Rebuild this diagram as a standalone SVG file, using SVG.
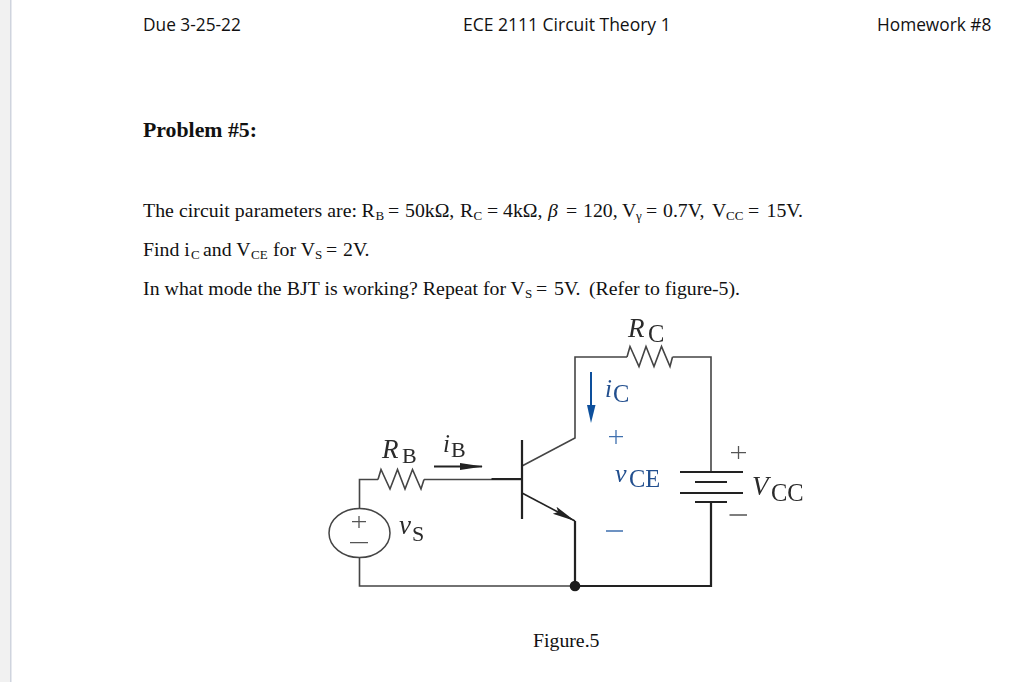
<svg xmlns="http://www.w3.org/2000/svg" width="1024" height="682" viewBox="0 0 1024 682">
<style>
.h{font-family:"Open Sans","Liberation Sans",sans-serif;font-size:17.3px;fill:#111}
.b{font-family:"Liberation Serif",serif;font-size:19.8px;fill:#111}
.s{font-size:13px}
.l{font-family:"Liberation Serif",serif;font-size:27px;fill:#2a2a2a}
.u{font-size:22px;font-style:normal}
.uu{font-size:24.500px;font-style:normal}
.i{font-style:italic}
.w{fill:none;stroke:#444;stroke-width:1.6}
.d{fill:none;stroke:#222;stroke-width:2.2}
.sg{fill:none;stroke:#555;stroke-width:1.3}
.bl{fill:none;stroke:#3f6fae;stroke-width:1.3}
.soft{filter:url(#soft)}
</style>
<defs>
<filter id="soft" x="-5%" y="-5%" width="110%" height="110%"><feGaussianBlur stdDeviation="0.35"/></filter>
<marker id="k" markerUnits="userSpaceOnUse" markerWidth="24" markerHeight="10" refX="23" refY="5" orient="auto"><path d="M0 1 L23 5 L0 9 L4 5Z" fill="#222"/></marker>
</defs>
<rect width="1024" height="682" fill="#fff"/>
<rect width="10" height="682" fill="#f1f1f1"/>
<rect x="10" width="1.5" height="682" fill="#cfd4de"/>
<g id="header">
<text class="h" x="143" y="31">Due 3-25-22</text>
<text class="h" x="463" y="31" style="font-size:17.5px">ECE 2111 Circuit Theory 1</text>
<text class="h" x="877" y="31">Homework #8</text>
</g>
<g id="problem">
<text class="b" x="143" y="137" font-weight="bold" style="font-size:21.8px">Problem #5:</text>
<text class="b" x="143" y="217" textLength="214">The circuit parameters are:</text>
<text class="b" y="217"><tspan x="361.500">R</tspan><tspan class="s" x="375.500" dy="3">B</tspan><tspan x="388" dy="-3">=</tspan><tspan x="405">50kΩ,</tspan><tspan x="460">R</tspan><tspan class="s" x="473.500" dy="3">C</tspan><tspan x="487" dy="-3">=</tspan><tspan x="503">4kΩ,</tspan><tspan x="548" class="i">β</tspan><tspan x="566">=</tspan><tspan x="583">120,</tspan><tspan x="622">V</tspan><tspan class="s" x="636" dy="3">γ</tspan><tspan x="646" dy="-3">=</tspan><tspan x="663">0.7V,</tspan><tspan x="712">V</tspan><tspan class="s" x="726" dy="3">CC</tspan><tspan x="748" dy="-3">=</tspan><tspan x="766.500">15V.</tspan></text>
<text class="b" y="256"><tspan x="143">Find i</tspan><tspan class="s" x="191" dy="3">C</tspan><tspan x="203" dy="-3">and V</tspan><tspan class="s" x="251" dy="3">CE</tspan><tspan x="273" dy="-3">for V</tspan><tspan class="s" x="315" dy="3">S</tspan><tspan x="326" dy="-3">=</tspan><tspan x="343">2V.</tspan></text>
<text class="b" x="143" y="295" textLength="335">In what mode the BJT is working? Repeat</text>
<text class="b" y="295"><tspan x="483">for</tspan><tspan x="510.500">V</tspan><tspan class="s" x="525" dy="3">S</tspan><tspan x="536" dy="-3">=</tspan><tspan x="554">5V.</tspan><tspan x="589">(Refer to figure-5).</tspan></text>
<text class="b" x="533" y="647">Figure.5</text>
</g>
<g id="connectors" class="soft">
<path class="w" d="M359.500 508V479.500H378"/>
<path class="w" d="M424 479.500H522"/>
<path class="w" d="M359.500 558V586H575"/>
<path class="w" d="M522 466L575 438V357H627"/>
<path class="w" d="M672.500 357H711V472"/>
<path class="d" d="M575 521V586H711V502"/>
<path class="d" style="stroke-width:1.6" d="M522 493L575 521" marker-end="url(#k)"/>
<path fill="none" stroke="#222" stroke-width="1.800" d="M434 466.500H482"/>
<path d="M460 463L483 466.500L460 470Z" fill="#222"/>
<path fill="none" stroke="#0b4f9c" stroke-width="2" d="M591 372V415"/>
<path d="M587 405L591 423L595.500 405Z" fill="#0b4f9c"/>
</g>
<g id="RB" class="soft"><path class="w" d="M378 479.500L381 469.500L390 489L397.500 469.500L405 489L412.500 469.500L421 489L424 479.500"/><text class="l i" x="382" y="458">R<tspan class="u" x="402" dy="5">B</tspan></text></g>
<g id="iB" class="soft"><text class="l i" x="443" y="452" style="font-size:25px">i<tspan class="u" x="451" dy="5">B</tspan></text></g>
<g id="RC" class="soft"><path class="w" d="M627 357L630 346.500L639 366.500L646 346.500L654 366.500L661.500 346.500L670 366.500L672.500 357"/><text class="l i" x="628" y="337">R<tspan class="uu" x="648" dy="5">C</tspan></text></g>
<g id="iC" class="soft"><text class="l i" x="605" y="397" style="fill:#24508f;font-size:25px">i<tspan class="uu" x="613" dy="5">C</tspan></text></g>
<g id="BJT" class="soft"><path d="M522 440V519" fill="none" stroke="#222" stroke-width="2.200"/><path d="M491.500 479H522" fill="none" stroke="#222" stroke-width="2"/></g>
<g id="vs-source" class="soft"><ellipse cx="359.500" cy="533" rx="30.500" ry="24.500" fill="#fff" stroke="#444" stroke-width="1.500"/><path class="sg" d="M352 521.700H366M359 516V528M350 542.700H368"/><text class="l i" x="399" y="534">v<tspan class="u" x="412" dy="7">S</tspan></text></g>
<g id="vCE" class="soft"><path class="bl" d="M609 436.700H623M616 430V444M606 531H623"/><text class="l i" x="615" y="482" style="fill:#24508f;font-size:26px">v<tspan class="uu" x="629" dy="5">CE</tspan></text></g>
<g id="Vcc" class="soft"><path d="M680 472H743M695 482H727M680 493H743M695 502H727" fill="none" stroke="#222" stroke-width="1.800"/><path class="sg" d="M731 452.700H746M738.500 446V459M729.500 515H747"/><text class="l i" x="752" y="495">V<tspan class="uu" x="771" dy="6">CC</tspan></text></g>
<circle id="junction" class="soft" cx="575" cy="586" r="5.300" fill="#1c1c1c"/>
</svg>
